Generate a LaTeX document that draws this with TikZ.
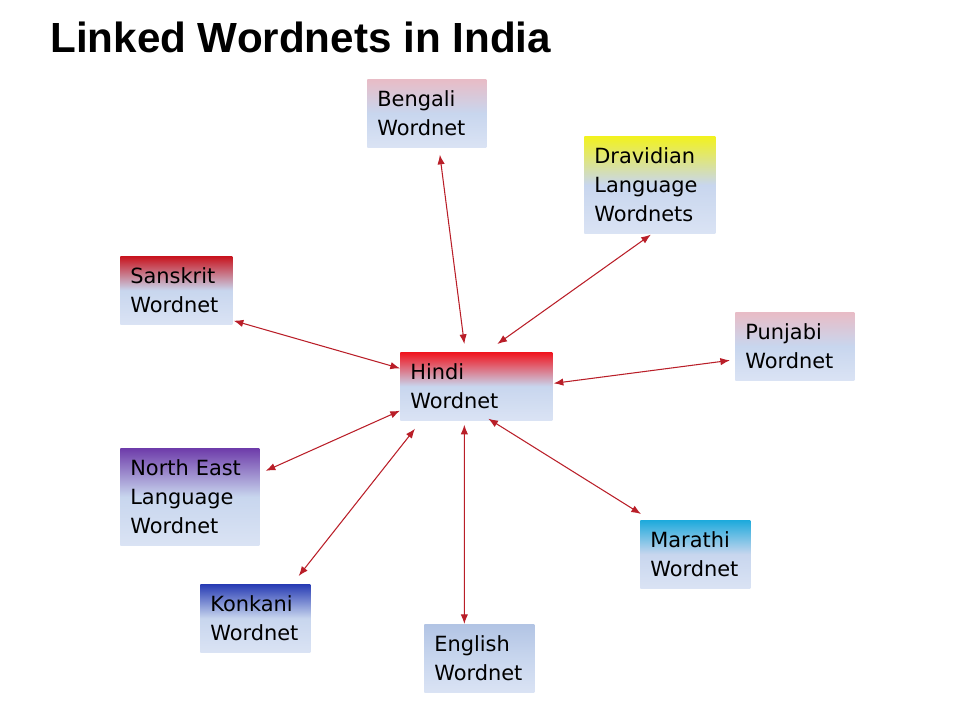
\documentclass[tikz,border=0pt]{standalone}
\usepackage{fontspec}
\setmainfont{DejaVu Sans}
\newfontfamily\titlefont{Liberation Sans}
\usetikzlibrary{calc,arrows.meta}

\definecolor{linkred}{RGB}{185,30,40}
\definecolor{boxblue}{RGB}{200,214,238}
\definecolor{boxpale}{RGB}{218,227,244}
\definecolor{pinktop}{RGB}{232,188,198}
\definecolor{yellowtop}{RGB}{242,242,30}
\definecolor{sanskrittop}{RGB}{200,20,30}
\definecolor{hinditop}{RGB}{240,20,30}
\definecolor{purpletop}{RGB}{110,60,170}
\definecolor{cyantop}{RGB}{30,170,220}
\definecolor{bluetop}{RGB}{40,60,180}
\definecolor{englishtop}{RGB}{178,196,228}

\tikzset{
    wnbox/.style={anchor=north west, top color=#1, bottom color=boxpale, middle color=boxblue,
        align=left, inner xsep=0.2cm, inner ysep=0pt, text=black,
        font=\fontsize{11.9}{16.5}\selectfont},
    link/.style={linkred, line width=0.6pt, {Latex[length=5.5pt,width=4.2pt]}-{Latex[length=5.5pt,width=4.2pt]}}
}

\begin{document}
\begin{tikzpicture}[x=0.02cm, y=-0.02cm]
    \useasboundingbox (0,0) rectangle (960,720);
    % Title
    \node[anchor=base west, inner sep=0pt, font=\titlefont\bfseries\fontsize{24}{28}\selectfont] (title) at (50,52) {Linked Wordnets in India};
    % Wordnets
    \node[wnbox=hinditop, text width=2.64cm, minimum height=1.36cm] (hindi) at (400,352) {Hindi\\Wordnet};
    \node[wnbox=pinktop, text width=1.98cm, minimum height=1.36cm] (bengali) at (367,79) {Bengali\\Wordnet};
    \node[wnbox=yellowtop, text width=2.22cm, minimum height=1.94cm] (dravidian) at (584,136) {Dravidian\\Language\\Wordnets};
    \node[wnbox=sanskrittop, text width=1.84cm, minimum height=1.36cm] (sanskrit) at (120,256) {Sanskrit\\Wordnet};
    \node[wnbox=pinktop, text width=1.98cm, minimum height=1.36cm] (punjabi) at (735,312) {Punjabi\\Wordnet};
    \node[wnbox=purpletop, text width=2.38cm, minimum height=1.94cm] (northeast) at (120,448) {North East\\Language\\Wordnet};
    \node[wnbox=cyantop, text width=1.8cm, minimum height=1.36cm] (marathi) at (640,520) {Marathi\\Wordnet};
    \node[wnbox=bluetop, text width=1.8cm, minimum height=1.36cm] (konkani) at (200,584) {Konkani\\Wordnet};
    \node[wnbox=englishtop, text width=1.8cm, minimum height=1.36cm] (english) at (424,624) {English\\Wordnet};
    % Links
    \draw[link] ($(bengali.south)+(13,7)$) -- ($(hindi.north)+(-12,-8)$);
    \draw[link] ($(dravidian.south)+(1,1)$) -- ($(hindi.north)+(21,-8)$);
    \draw[link] ($(sanskrit.south east)+(1,-4)$) -- ($(hindi.west)+(0,-18)$);
    \draw[link] ($(punjabi.west)+(-5,14)$) -- ($(hindi.east)+(1,-3)$);
    \draw[link] ($(northeast.east)+(6,-26)$) -- ($(hindi.south west)+(0,-10)$);
    \draw[link] ($(konkani.north east)+(-12,-8)$) -- ($(hindi.south west)+(15,8)$);
    \draw[link] ($(english.north)+(-15,0)$) -- ($(hindi.south)+(-12,4)$);
    \draw[link] ($(marathi.north west)+(1,-6)$) -- ($(hindi.south)+(12,-2)$);
\end{tikzpicture}
\end{document}
